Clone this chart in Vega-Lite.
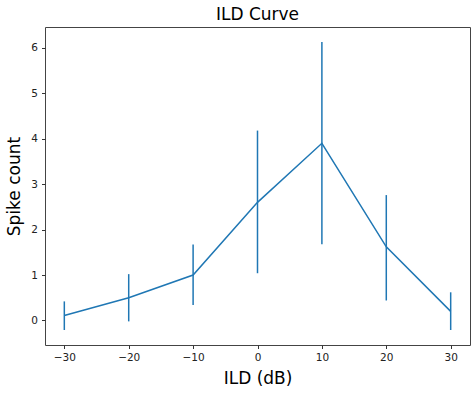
{
  "$schema": "https://vega.github.io/schema/vega-lite/v6.json",
  "width": 425,
  "height": 318,
  "autosize": "none",
  "padding": {"left": 45, "top": 27, "right": 4, "bottom": 53},
  "background": "white",
  "title": {"text": "ILD Curve", "fontSize": 17, "font": "DejaVu Sans", "fontWeight": "normal", "color": "black", "offset": 3},
  "data": {"values": [
    {"ild": -30, "mean": 0.11, "lo": -0.21, "hi": 0.42},
    {"ild": -20, "mean": 0.5, "lo": -0.02, "hi": 1.02},
    {"ild": -10, "mean": 1.0, "lo": 0.34, "hi": 1.67},
    {"ild": 0, "mean": 2.6, "lo": 1.04, "hi": 4.18},
    {"ild": 10, "mean": 3.9, "lo": 1.68, "hi": 6.13},
    {"ild": 20, "mean": 1.62, "lo": 0.44, "hi": 2.76},
    {"ild": 30, "mean": 0.2, "lo": -0.21, "hi": 0.62}
  ]},
  "encoding": {
    "x": {"field": "ild", "type": "quantitative",
      "scale": {"domain": [-33, 33], "nice": false, "zero": false},
      "axis": {"values": [-30, -20, -10, 0, 10, 20, 30], "title": "ILD (dB)", "titleY": 38, "titleBaseline": "alphabetic"}}
  },
  "layer": [
    {"mark": {"type": "rule", "color": "#1f77b4", "strokeWidth": 1.5},
     "encoding": {
       "y": {"field": "lo", "type": "quantitative",
         "scale": {"domain": [-0.54, 6.46], "nice": false, "zero": false},
         "axis": {"values": [0, 1, 2, 3, 4, 5, 6], "title": "Spike count", "titleX": -26, "titleBaseline": "alphabetic"}},
       "y2": {"field": "hi"}
     }},
    {"mark": {"type": "line", "color": "#1f77b4", "strokeWidth": 1.5},
     "encoding": {"y": {"field": "mean", "type": "quantitative"}}}
  ],
  "config": {
    "font": "DejaVu Sans",
    "view": {"stroke": "#444", "strokeWidth": 1},
    "axis": {
      "domain": false, "grid": false,
      "tickSize": 3.5, "tickColor": "#333", "tickWidth": 1,
      "labelFont": "DejaVu Sans", "labelFontSize": 10.5, "labelColor": "#222", "labelPadding": 4,
      "titleFont": "DejaVu Sans", "titleFontSize": 17, "titleFontWeight": "normal", "titleColor": "black"
    }
  }
}
